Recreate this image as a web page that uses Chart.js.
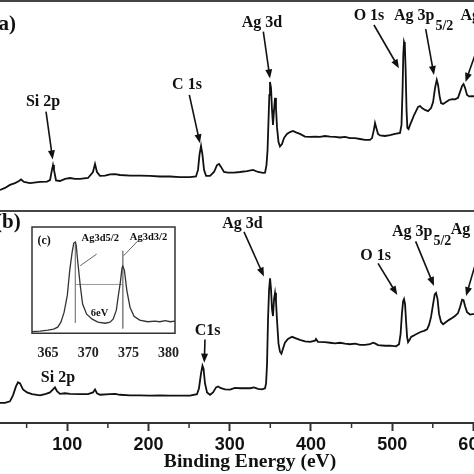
<!DOCTYPE html>
<html>
<head>
<meta charset="utf-8">
<script src="https://cdn.jsdelivr.net/npm/chart.js@4.4.1/dist/chart.umd.min.js"></script>
<style>
  html, body { margin: 0; padding: 0; background: #fff; overflow: hidden; }
  #wrap { position: relative; width: 474px; height: 474px; overflow: hidden; background: #fff; }
  canvas { position: absolute; }
  #chartA { left: -14px; top: 0; }
  #chartB { left: -14px; top: 211px; }
  #chartC { left: 31px; top: 226px; }
</style>
</head>
<body>
<div id="wrap">
  <canvas id="chartA" width="528" height="213"></canvas>
  <canvas id="chartB" width="528" height="263"></canvas>
  <canvas id="chartC" width="158" height="147"></canvas>
</div>
<script>
// survey spectra, binding energy (eV) vs intensity (a.u.)
const energyA = [17.2,23.4,29.5,35.7,40.6,43.1,46.8,54.2,66.5,75.1,78.8,81.2,82.5,83.7,86.2,91.1,97.3,103.4,109.6,115.7,125.6,131.7,134.2,136.6,140.3,146.5,152.7,158.8,165.0,177.3,189.6,201.9,214.2,226.5,238.8,251.1,258.5,261.0,262.8,264.7,266.5,268.4,270.9,275.8,280.7,284.4,286.9,289.3,293.0,297.9,305.3,312.7,321.3,328.7,334.9,341.0,343.5,345.3,346.6,347.8,348.8,349.6,350.9,352.1,353.3,354.6,355.8,357.0,358.3,360.1,361.9,364.4,366.8,370.5,374.2,377.9,381.6,386.5,392.7,398.9,405.0,411.2,417.3,423.5,429.6,435.8,441.9,448.1,454.3,460.4,466.6,472.7,475.2,477.7,478.9,480.2,482.6,485.1,491.2,497.4,503.5,509.7,511.5,512.8,513.7,514.6,515.6,516.6,517.7,518.7,520.2,522.0,524.5,527.0,529.4,531.9,534.4,536.8,540.5,544.2,547.9,550.4,552.8,554.9,556.5,558.4,560.2,562.7,566.4,570.1,573.8,577.4,581.1,583.6,586.1,587.9,589.8,592.2,594.7,598.4,603.3];
const intensityA = [7.0,7.7,8.7,9.3,10.0,10.5,9.7,9.3,9.7,9.8,10.3,13.7,15.3,13.7,10.2,10.0,10.7,11.0,10.7,10.7,11.0,13.0,15.7,13.0,11.7,11.8,12.2,12.3,12.0,11.8,11.8,11.7,11.5,11.5,11.3,11.3,11.5,13.7,18.7,21.7,18.7,13.7,11.7,11.7,13.0,15.3,15.7,14.7,13.0,12.8,12.8,13.0,13.3,13.7,13.0,12.7,12.8,15.3,20.3,30.3,38.7,43.0,41.0,33.7,28.7,33.7,37.7,34.3,27.7,23.0,21.5,22.3,24.3,25.7,26.3,26.7,26.2,25.7,24.8,24.7,24.8,24.7,25.0,24.8,24.7,24.5,24.7,24.3,24.3,24.0,23.7,23.7,24.3,27.3,29.3,28.0,25.7,25.2,25.0,25.3,25.7,26.0,28.7,40.3,52.0,56.3,55.3,47.0,33.7,27.7,27.3,28.7,30.3,32.0,33.3,34.7,35.0,34.3,33.7,33.3,34.3,36.3,41.0,43.7,42.0,38.3,36.0,35.7,36.3,37.0,37.3,37.2,37.7,39.7,41.7,42.3,41.0,38.7,38.2,38.3,38.2];

const energyB = [17.2,23.4,29.5,33.2,36.9,39.4,41.9,45.5,50.5,56.6,66.5,73.9,78.8,82.5,84.9,87.4,91.1,97.3,103.4,115.7,125.6,131.7,134.2,136.6,140.3,152.7,158.8,165.0,177.3,189.6,201.9,214.2,226.5,238.8,251.1,259.7,262.2,264.7,266.5,267.8,269.6,272.1,275.8,279.5,283.2,285.7,289.3,294.3,300.4,306.5,312.7,318.8,325.0,329.9,334.9,339.8,343.5,344.8,346.0,347.2,348.5,349.7,350.9,352.1,353.3,354.6,355.8,357.0,358.3,360.1,361.9,363.7,365.6,368.0,371.7,376.7,381.6,386.5,392.7,398.9,405.0,406.2,408.7,417.3,423.5,429.6,435.8,441.9,448.1,454.3,460.4,466.6,472.7,476.4,478.9,482.6,491.2,497.4,504.8,508.5,510.4,512.0,513.5,514.6,515.9,517.1,518.4,519.6,521.5,523.3,525.7,528.2,531.9,535.6,539.3,543.0,545.4,547.9,550.4,552.4,554.0,555.9,557.7,560.2,562.7,566.4,570.1,573.8,577.4,581.1,583.6,586.1,587.9,589.8,592.2,595.9,600.8,605.7];
const intensityB = [6.8,6.8,7.3,9.3,12.3,13.7,13.3,11.3,10.3,9.7,9.3,9.8,10.3,11.3,12.0,10.7,9.8,10.0,9.8,9.7,9.7,10.3,11.3,10.0,9.5,9.7,9.8,9.5,9.3,9.3,9.2,9.3,9.2,9.2,9.2,9.7,11.7,16.7,19.3,18.3,13.3,10.3,9.5,10.3,12.0,12.3,11.7,11.3,11.2,11.8,11.7,11.7,11.7,12.0,11.5,11.3,11.7,13.3,20.0,35.0,45.0,48.7,45.0,38.3,36.0,41.7,43.8,41.0,34.3,26.7,24.0,23.3,25.0,27.0,28.3,29.0,28.5,28.0,27.5,27.3,27.7,28.3,27.3,27.2,27.0,26.8,27.0,26.7,26.5,26.7,26.3,26.3,26.5,27.0,26.8,26.2,26.0,26.0,25.8,26.5,30.0,36.7,41.0,41.7,40.0,34.3,29.0,27.2,28.0,29.0,29.3,29.7,30.2,30.7,31.0,31.5,33.0,35.7,40.0,43.3,43.8,41.7,36.7,34.0,33.2,34.0,34.7,35.3,36.0,37.0,39.0,41.5,41.3,39.3,37.3,36.5,36.7,37.0];

// inset (c): Ag 3d high resolution
const energyC = [363.0,364.0,365.0,365.7,366.2,366.6,367.0,367.4,367.7,368.0,368.2,368.4,368.5,368.7,369.0,369.3,369.8,370.5,371.2,372.1,372.7,373.1,373.5,373.7,374.0,374.2,374.3,374.5,374.8,375.2,375.7,376.4,377.4,378.3,378.9,379.6,380.2,380.8];
const intensityC = [1.4,1.9,2.8,3.8,5.7,10.4,19.8,35.8,59.4,76.4,84.9,85.8,83.0,67.0,45.3,27.4,17.9,13.2,10.4,9.4,10.4,13.2,21.7,33.0,48.1,61.3,63.2,59.4,40.6,24.5,16.0,12.3,10.8,11.3,10.8,11.8,10.8,11.3];
const splitEnergy = [368.4, 374.3];
const splitTop = [84, 77.6];
const splitBottom = [9.7, 4.4];
const halfLevel = 45.9;

const xTicks = [100, 200, 300, 400, 500, 600];
const xMinorTicks = [50, 150, 250, 350, 450, 550];
const insetTicks = [365, 370, 375, 380];

// peak labels and arrows [fromE, fromI, toE, toI]
const labelsA = [
  {t: '(a)', x: 36.9, y: 62.2, align: 'right', size: 21},
  {t: 'Si 2p', x: 70.2, y: 36.4},
  {t: 'C 1s', x: 247.4, y: 42},
  {t: 'Ag 3d', x: 339.8, y: 62.6},
  {t: 'O 1s', x: 471.5, y: 65},
  {t: 'Ag 3p', sub: '5/2', x: 502.3, y: 65, align: 'left'},
  {t: 'Ag 3p', sub: '3/2', x: 584, y: 65, align: 'left'}
];
const arrowsA = [
  [73.9, 33.1, 82.1, 17.2],
  [250.3, 38.7, 263.4, 22.6],
  [341.4, 59.8, 349.6, 44.2],
  [477.6, 62, 508.4, 47.6],
  [541.3, 60.6, 551.5, 45.3],
  [603.3, 53, 590.3, 43]
];
const labelsB = [
  {t: '(b)', x: 42.7, y: 67.3, align: 'right', size: 21},
  {t: 'Si 2p', x: 88.6, y: 15.1},
  {t: 'C1s', x: 272.7, y: 30.9},
  {t: 'Ag 3d', x: 315.8, y: 67},
  {t: 'O 1s', x: 479.7, y: 56.1},
  {t: 'Ag 3p', sub: '5/2', x: 499.8, y: 64.4, align: 'left'},
  {t: 'Ag 3p', sub: '3/2', x: 572.1, y: 65, align: 'left'}
];
const arrowsB = [
  [269.6, 28.1, 268.7, 20.3],
  [317.6, 64.3, 342.2, 49.3],
  [482.6, 53.7, 506.3, 43.1],
  [528.9, 61.1, 551.5, 46.1],
  [603.3, 54.3, 591, 42.7]
];
const labelsC = [
  {t: '(c)', x: 364.5, y: 86.8, size: 12},
  {t: 'Ag3d5/2', x: 371.5, y: 89.6},
  {t: 'Ag3d3/2', x: 377.5, y: 90.6},
  {t: '6eV', x: 371.4, y: 19.2}
];
const leadersC = [
  [371.05, 74.5, 369.0, 63.5],
  [376.2, 87.1, 374.4, 72.9]
];

const serif = '"Liberation Serif", "Times New Roman", serif';

const notesPlugin = {
  id: 'notes',
  afterDatasetsDraw(chart, args, o) {
    const ctx = chart.ctx;
    const px = v => chart.scales.x.getPixelForValue(v);
    const py = v => chart.scales.y.getPixelForValue(v);
    ctx.save();
    ctx.strokeStyle = o.color;
    ctx.fillStyle = o.color;
    ctx.lineWidth = o.lineWidth;
    (o.arrows || []).forEach(a => {
      const x1 = px(a[0]), y1 = py(a[1]), x2 = px(a[2]), y2 = py(a[3]);
      const ang = Math.atan2(y2 - y1, x2 - x1);
      const hl = o.head;
      ctx.beginPath();
      ctx.moveTo(x1, y1);
      ctx.lineTo(x2 - Math.cos(ang) * hl * 0.7, y2 - Math.sin(ang) * hl * 0.7);
      ctx.stroke();
      if (hl) {
        ctx.beginPath();
        ctx.moveTo(x2, y2);
        ctx.lineTo(x2 - Math.cos(ang) * hl + Math.sin(ang) * 3.5, y2 - Math.sin(ang) * hl - Math.cos(ang) * 3.5);
        ctx.lineTo(x2 - Math.cos(ang) * hl - Math.sin(ang) * 3.5, y2 - Math.sin(ang) * hl + Math.cos(ang) * 3.5);
        ctx.closePath();
        ctx.fill();
      }
    });
    ctx.fillStyle = '#111';
    ctx.textBaseline = 'middle';
    (o.labels || []).forEach(l => {
      ctx.font = 'bold ' + (l.size || o.size) + 'px ' + serif;
      ctx.textAlign = l.align || 'center';
      ctx.fillText(l.t, px(l.x), py(l.y));
      if (l.sub) {
        const w = ctx.measureText(l.t).width;
        ctx.font = 'bold ' + o.subSize + 'px ' + serif;
        ctx.textAlign = 'left';
        ctx.fillText(l.sub, px(l.x) + w + 1, py(l.y) + o.subShift);
      }
    });
    ctx.restore();
  }
};

const framePlugin = {
  id: 'frame',
  beforeDatasetsDraw(chart, args, o) {
    if (!o.fill) return;
    const a = chart.chartArea;
    chart.ctx.save();
    chart.ctx.fillStyle = o.fill;
    chart.ctx.fillRect(a.left, a.top, a.right - a.left, a.bottom - a.top);
    chart.ctx.restore();
  },
  afterDraw(chart, args, o) {
    const ctx = chart.ctx, a = chart.chartArea;
    ctx.save();
    ctx.strokeStyle = o.color;
    ctx.lineWidth = o.width;
    ctx.beginPath();
    if (o.top) { ctx.moveTo(a.left, a.top + o.width / 2); ctx.lineTo(a.right, a.top + o.width / 2); }
    if (o.bottom) { ctx.moveTo(a.left, a.bottom); ctx.lineTo(a.right, a.bottom); }
    if (o.box) ctx.rect(a.left, a.top, a.right - a.left, a.bottom - a.top);
    ctx.stroke();
    if (o.minor) {
      ctx.beginPath();
      o.minor.forEach(v => {
        const x = chart.scales.x.getPixelForValue(v);
        ctx.moveTo(x, a.bottom);
        ctx.lineTo(x, a.bottom + 5);
      });
      ctx.stroke();
    }
    ctx.restore();
  }
};

function pairs(xs, ys) {
  return xs.map((x, i) => ({x: x, y: ys[i]}));
}

// keep the plot area fixed, labels may overhang it
function noLabelPadding(s) {
  s.paddingLeft = 0;
  s.paddingRight = 0;
}

function surveyChart(id, energy, intensity, yMin, yMax, labels, arrows, frame, withAxis) {
  return new Chart(document.getElementById(id), {
    type: 'line',
    data: {
      datasets: [{
        data: pairs(energy, intensity),
        borderColor: '#111',
        borderWidth: 1.8,
        pointRadius: 0,
        tension: 0,
        fill: false
      }]
    },
    options: {
      responsive: false,
      animation: false,
      events: [],
      layout: {padding: withAxis ? 0 : {bottom: 2}},
      plugins: {
        legend: {display: false},
        tooltip: {enabled: false},
        notes: {labels: labels, arrows: arrows, color: '#111', lineWidth: 1.6, head: 9, size: 16, subSize: 14, subShift: 10},
        frame: frame
      },
      scales: {
        x: {
          type: 'linear',
          min: 0,
          max: 650,
          display: withAxis,
          afterBuildTicks: s => { s.ticks = xTicks.map(v => ({value: v})); },
          afterFit: noLabelPadding,
          grid: {display: true, drawOnChartArea: false, drawTicks: true, tickLength: 8, tickWidth: 2, tickColor: '#333'},
          border: {display: true, color: '#333', width: 2},
          ticks: {color: '#111', padding: 3, font: {family: '"Liberation Sans", Arial, sans-serif', size: 18, weight: 'bold'}},
          title: {
            display: true,
            text: 'Binding Energy (eV)',
            color: '#111',
            padding: {top: -8, bottom: 0},
            font: {family: serif, size: 19.5, weight: 'bold'}
          }
        },
        y: {type: 'linear', min: yMin, max: yMax, display: false}
      }
    },
    plugins: [framePlugin, notesPlugin]
  });
}

surveyChart('chartA', energyA, intensityA, 0, 211 / 3, labelsA, arrowsA,
  {color: '#444', width: 2, top: true, bottom: true}, false);
surveyChart('chartB', energyB, intensityB, 0, 214 / 3, labelsB, arrowsB,
  {color: '#333', width: 1.5, minor: xMinorTicks}, true);

const splitSets = splitEnergy.map((e, i) => ({
  data: [{x: e, y: splitTop[i]}, {x: e, y: splitBottom[i]}],
  borderColor: '#888', borderWidth: 1, pointRadius: 0
}));

new Chart(document.getElementById('chartC'), {
  type: 'line',
  data: {
    datasets: [
      {data: pairs(energyC, intensityC), borderColor: '#333', borderWidth: 1.3, pointRadius: 0, tension: 0},
      ...splitSets,
      {data: splitEnergy.map(e => ({x: e, y: halfLevel})), borderColor: '#999', borderWidth: 1, pointRadius: 0}
    ]
  },
  options: {
    responsive: false,
    animation: false,
    events: [],
    layout: {padding: {left: 1, top: 1, right: 14}},
    plugins: {
      legend: {display: false},
      tooltip: {enabled: false},
      notes: {labels: labelsC, arrows: leadersC, color: '#666', lineWidth: 1, head: 0, size: 10.5},
      frame: {color: '#333', width: 1.5, box: true, fill: '#fff'}
    },
    scales: {
      x: {
        type: 'linear',
        min: 363,
        max: 380.8,
        afterBuildTicks: s => { s.ticks = insetTicks.map(v => ({value: v})); },
        afterFit: noLabelPadding,
        grid: {display: false, drawTicks: false, tickLength: 0},
        border: {display: false},
        ticks: {color: '#222', padding: 11.5, font: {family: serif, size: 14, weight: 'bold'}}
      },
      y: {type: 'linear', min: 0, max: 100, display: false}
    }
  },
  plugins: [framePlugin, notesPlugin]
});
</script>
</body>
</html>
